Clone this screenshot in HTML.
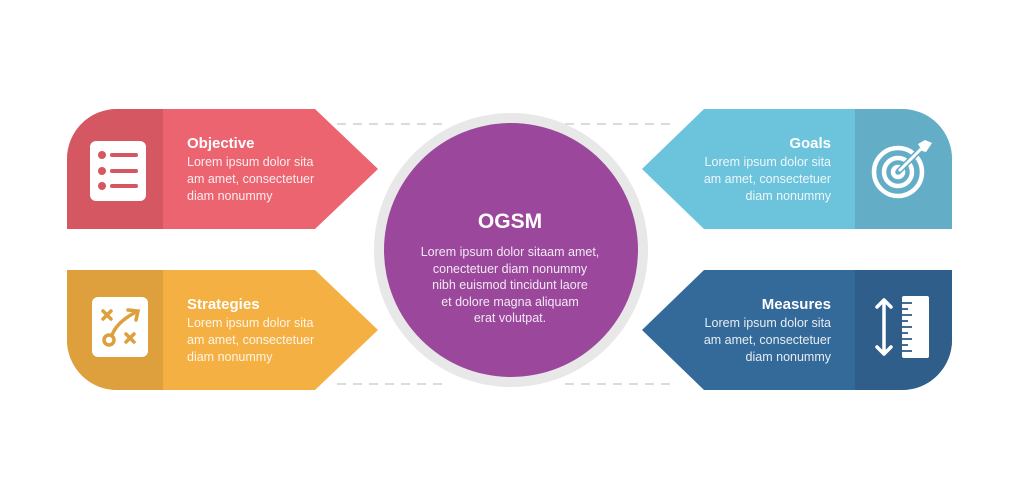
<!DOCTYPE html>
<html><head><meta charset="utf-8"><style>
html,body{margin:0;padding:0;background:#fff;}
svg{display:block;font-family:"Liberation Sans",sans-serif;}
.t{font-weight:bold;font-size:15px;fill:#fff;}
.b{font-size:12.5px;fill:#fff;opacity:.88;}
</style></head><body>
<svg width="1019" height="500" viewBox="0 0 1019 500">
<g stroke="#cfcfcf" stroke-width="1.5" stroke-dasharray="9,7">
<line x1="337" y1="124" x2="445" y2="124"/><line x1="565" y1="124" x2="675" y2="124"/>
<line x1="337" y1="384" x2="445" y2="384"/><line x1="565" y1="384" x2="675" y2="384"/>
</g>
<!-- Objective -->
<path d="M117 109 H315 L378 169 L315 229 H67 V159 A50 50 0 0 1 117 109Z" fill="#EC6470"/>
<path d="M117 109 H163 V229 H67 V159 A50 50 0 0 1 117 109Z" fill="#D45761"/>
<!-- Strategies -->
<path d="M67 270 H315 L378 330 L315 390 H117 A50 50 0 0 1 67 340Z" fill="#F4B042"/>
<path d="M67 270 H163 V390 H117 A50 50 0 0 1 67 340Z" fill="#DDA03C"/>
<!-- Goals -->
<path d="M902 109 H704 L642 169 L704 229 H952 V159 A50 50 0 0 0 902 109Z" fill="#6CC3DC"/>
<path d="M902 109 H855 V229 H952 V159 A50 50 0 0 0 902 109Z" fill="#63AEC6"/>
<!-- Measures -->
<path d="M952 270 H704 L642 330 L704 390 H902 A50 50 0 0 0 952 340Z" fill="#346A9A"/>
<path d="M952 270 H855 V390 H902 A50 50 0 0 0 952 340Z" fill="#2F5E8A"/>
<!-- circle -->
<circle cx="511" cy="250" r="137" fill="#E8E8E8"/>
<circle cx="511" cy="250" r="127" fill="#9B479C"/>
<text x="510" y="228" text-anchor="middle" font-weight="bold" font-size="21" fill="#fff">OGSM</text>
<g class="b" text-anchor="middle" style="font-size:12.5px;fill:#fff;opacity:.88">
<text x="510" y="256">Lorem ipsum dolor sitaam amet,</text>
<text x="510" y="273">conectetuer diam nonummy</text>
<text x="510" y="289">nibh euismod tincidunt laore</text>
<text x="510" y="306">et dolore magna aliquam</text>
<text x="510" y="322">erat volutpat.</text>
</g>
<!-- left texts -->
<text class="t" x="187" y="148">Objective</text>
<text class="b" x="187" y="166">Lorem ipsum dolor sita</text>
<text class="b" x="187" y="183">am amet, consectetuer</text>
<text class="b" x="187" y="200">diam nonummy</text>
<text class="t" x="187" y="309">Strategies</text>
<text class="b" x="187" y="327">Lorem ipsum dolor sita</text>
<text class="b" x="187" y="344">am amet, consectetuer</text>
<text class="b" x="187" y="361">diam nonummy</text>
<!-- right texts -->
<g text-anchor="end">
<text class="t" x="831" y="148">Goals</text>
<text class="b" x="831" y="166">Lorem ipsum dolor sita</text>
<text class="b" x="831" y="183">am amet, consectetuer</text>
<text class="b" x="831" y="200">diam nonummy</text>
<text class="t" x="831" y="309">Measures</text>
<text class="b" x="831" y="327">Lorem ipsum dolor sita</text>
<text class="b" x="831" y="344">am amet, consectetuer</text>
<text class="b" x="831" y="361">diam nonummy</text>
</g>
<!-- icon: list -->
<rect x="90" y="141" width="56" height="60" rx="6" fill="#fff"/>
<g fill="#D45761"><circle cx="102" cy="155" r="4"/><circle cx="102" cy="171" r="4"/><circle cx="102" cy="186" r="4"/>
<rect x="110" y="153" width="28" height="4" rx="2"/><rect x="110" y="169" width="28" height="4" rx="2"/><rect x="110" y="184" width="28" height="4" rx="2"/></g>
<!-- icon: strategy -->
<rect x="92" y="297" width="56" height="60" rx="6" fill="#fff"/>
<g stroke="#DDA03C" stroke-width="3.5" stroke-linecap="round" fill="none">
<path d="M103 311 L111 319 M111 311 L103 319"/><path d="M126 334 L134 342 M134 334 L126 342"/>
<circle cx="109" cy="340" r="5"/><path d="M112 335 Q117 322 136 312"/><path d="M128 310 L138 311 L136 320"/></g>
<!-- icon: target -->
<g fill="none" stroke="#fff" stroke-width="4.5">
<circle cx="898" cy="172" r="24"/><circle cx="898" cy="172" r="14"/><circle cx="898" cy="172" r="5"/></g>
<path d="M898 172 L922 148" stroke="#63AEC6" stroke-width="6"/>
<path d="M899 171 L921 149" stroke="#fff" stroke-width="3"/>
<path d="M918 144 L925 140 L932 143 L926 152 L922 151Z" fill="#fff"/>
<!-- icon: measure -->
<path d="M884 300 V354 M877 307 L884 300 L891 307 M877 347 L884 354 L891 347" stroke="#fff" stroke-width="3.5" fill="none" stroke-linecap="round" stroke-linejoin="round"/>
<rect x="902" y="296" width="27" height="62" rx="2" fill="#fff"/>
<g stroke="#2F5E8A" stroke-width="1.8">
<line x1="902" y1="303" x2="912" y2="303"/><line x1="902" y1="309" x2="908" y2="309"/><line x1="902" y1="315" x2="912" y2="315"/><line x1="902" y1="321" x2="908" y2="321"/><line x1="902" y1="327" x2="912" y2="327"/><line x1="902" y1="333" x2="908" y2="333"/><line x1="902" y1="339" x2="912" y2="339"/><line x1="902" y1="345" x2="908" y2="345"/><line x1="902" y1="351" x2="912" y2="351"/></g>
</svg>
</body></html>
